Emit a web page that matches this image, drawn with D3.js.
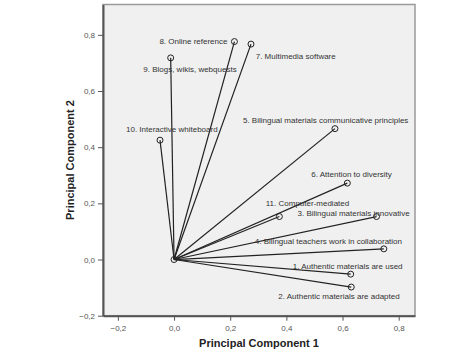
<!DOCTYPE html>
<html>
<head>
<meta charset="utf-8">
<script src="https://cdn.jsdelivr.net/npm/d3@7"></script>
<style>
  body { margin: 0; background: #fff; }
  svg { display: block; font-family: "Liberation Sans", Arial, sans-serif; }
</style>
</head>
<body>
<svg id="chart" width="474" height="352"></svg>
<script>
// component loadings, items 1..11
const itemLabels = [
  "1. Authentic materials are used",
  "2. Authentic materials are adapted",
  "3. Bilingual materials innovative",
  "4. Bilingual teachers work in collaboration",
  "5. Bilingual materials communicative principles",
  "6. Attention to diversity",
  "7. Multimedia software",
  "8. Online reference",
  "9. Blogs, wikis, webquests",
  "10. Interactive whiteboard",
  "11. Computer-mediated"
];
const pc1 = [0.629, 0.631, 0.721, 0.747, 0.573, 0.617, 0.274, 0.215, -0.012, -0.050, 0.375];
const pc2 = [-0.052, -0.098, 0.153, 0.038, 0.466, 0.272, 0.767, 0.776, 0.718, 0.425, 0.153];
const xTicks = [-0.2, 0, 0.2, 0.4, 0.6, 0.8];
const yTicks = [-0.2, 0, 0.2, 0.4, 0.6, 0.8];

// label placement relative to each point (pixels), hand-tuned like SPSS output
const labelOffset = [
  [-58, -7.6], [-73, 9.4], [-79, -3], [-129, -7.3], [-92, -8.7], [-36, -9.3],
  [4.7, 12.4], [-75, 0], [-27.4, 11.3], [-34, -11], [-13.6, -13]
];

const svg = d3.select("#chart");
const plot = { left: 103, top: 4.5, right: 415, bottom: 315.7 };

const x = d3.scaleLinear().domain([-0.253, 0.858]).range([plot.left, plot.right]);
const y = d3.scaleLinear().domain([-0.2, 0.908]).range([plot.bottom, plot.top]);
const fmt = d => d3.format(".1f")(d).replace(".", ",");

/*plot background and frame*/
svg.append("rect")
  .attr("x", plot.left).attr("y", plot.top)
  .attr("width", plot.right - plot.left).attr("height", plot.bottom - plot.top)
  .attr("fill", "#f0f0f0")
  .attr("stroke", "#9a9a9a")
  .attr("stroke-width", 1.5);

/*axes*/
const xAxis = svg.append("g")
  .attr("transform", "translate(0," + plot.bottom + ")")
  .call(d3.axisBottom(x).tickValues(xTicks).tickFormat(fmt).tickSize(5).tickSizeOuter(0));
const yAxis = svg.append("g")
  .attr("transform", "translate(" + plot.left + ",0)")
  .call(d3.axisLeft(y).tickValues(yTicks).tickFormat(fmt).tickSize(5).tickSizeOuter(0));

[xAxis, yAxis].forEach(a => {
  a.select(".domain").attr("stroke", "#555").attr("stroke-width", 2);
  a.selectAll(".tick line").attr("stroke", "#555");
  a.selectAll(".tick text")
    .attr("fill", "#555")
    .style("font-size", "8px")
    .style("font-family", "'Liberation Sans', Arial, sans-serif");
});
xAxis.selectAll(".tick text").attr("dy", "0.9em");

/*axis titles*/
svg.append("text")
  .attr("x", (plot.left + plot.right) / 2)
  .attr("y", 347)
  .attr("text-anchor", "middle")
  .style("font-size", "11px")
  .style("font-weight", "bold")
  .attr("fill", "#222")
  .text("Principal Component 1");

svg.append("text")
  .attr("transform", "translate(74," + (plot.top + plot.bottom) / 2 + ") rotate(-90)")
  .attr("text-anchor", "middle")
  .style("font-size", "11px")
  .style("font-weight", "bold")
  .attr("fill", "#222")
  .text("Principal Component 2");

/*vectors from origin*/
const items = itemLabels.map((label, i) => ({ label, x: pc1[i], y: pc2[i], off: labelOffset[i] }));
const g = svg.append("g");

g.selectAll("line.vec")
  .data(items)
  .enter()
  .append("line")
  .attr("class", "vec")
  .attr("x1", x(0)).attr("y1", y(0))
  .attr("x2", d => x(d.x)).attr("y2", d => y(d.y))
  .attr("stroke", "#222")
  .attr("stroke-width", 1.2);

g.selectAll("circle.pt")
  .data(items.concat([{ x: 0, y: 0 }]))
  .enter()
  .append("circle")
  .attr("class", "pt")
  .attr("cx", d => x(d.x)).attr("cy", d => y(d.y))
  .attr("r", 3)
  .attr("fill", "none")
  .attr("stroke", "#222")
  .attr("stroke-width", 1);

g.selectAll("text.lbl")
  .data(items)
  .enter()
  .append("text")
  .attr("class", "lbl")
  .attr("x", d => x(d.x) + d.off[0])
  .attr("y", d => y(d.y) + d.off[1])
  .attr("dy", "0.35em")
  .style("font-size", "8px")
  .attr("fill", "#333")
  .text(d => d.label);
</script>
</body>
</html>
